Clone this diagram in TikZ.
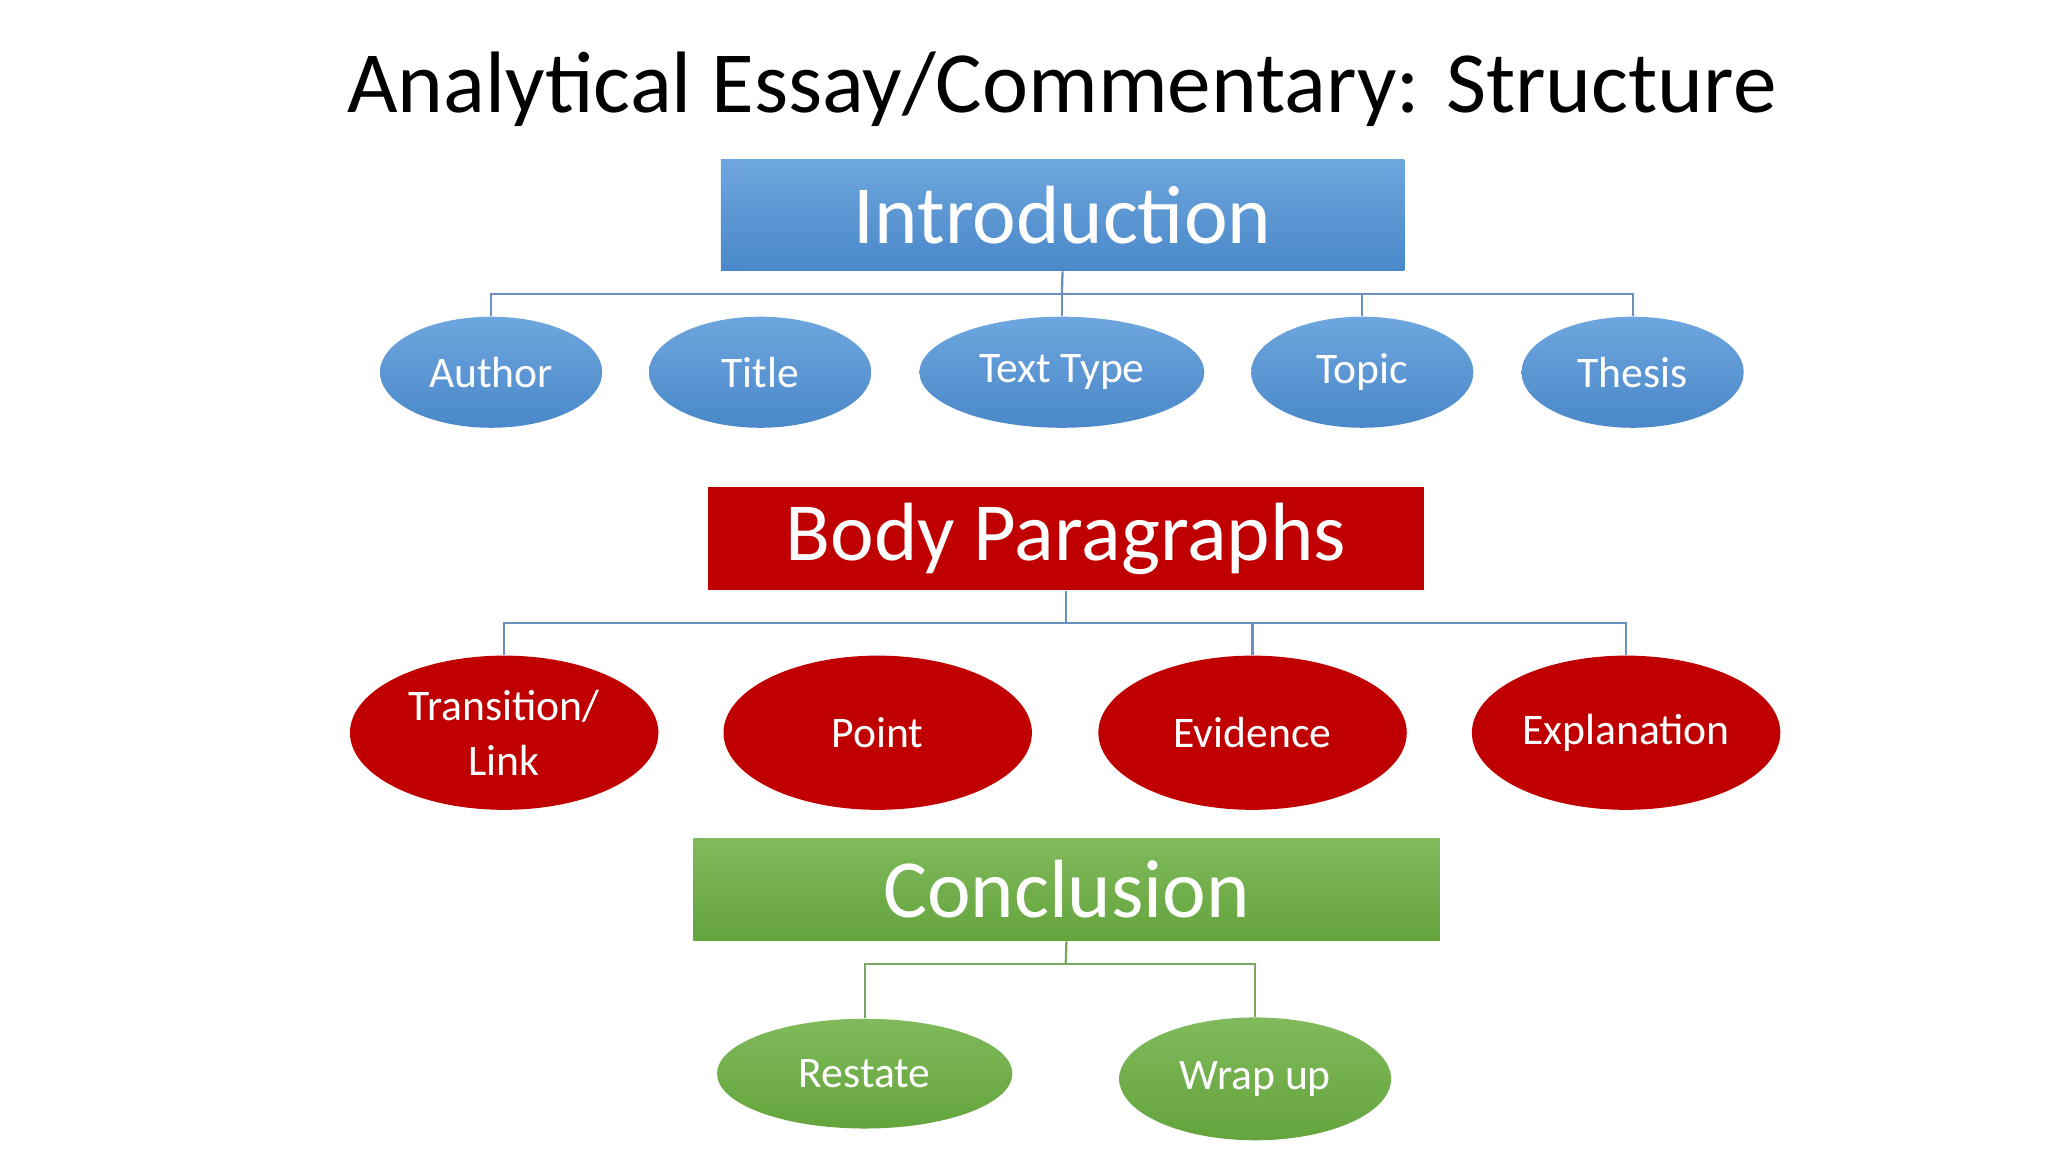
\documentclass[tikz,border=0pt]{standalone}
\usepackage{fontspec}
\setmainfont{Carlito}
\usetikzlibrary{shapes.geometric}
\definecolor{bA}{HTML}{6EA6DE}\definecolor{bB}{HTML}{4A88C9}
\definecolor{rA}{HTML}{C00000}
\definecolor{gA}{HTML}{80BA5C}\definecolor{gB}{HTML}{64A43C}
\definecolor{lnB}{HTML}{6A90BE}\definecolor{lnG}{HTML}{7AA860}
\tikzset{
 head/.style={draw=none,text=white,minimum width=#1,inner sep=0pt,font=\fontsize{18}{20}\selectfont},
 blue/.style={top color=bA,bottom color=bB},
 red/.style={fill=rA},
 green/.style={top color=gA,bottom color=gB},
 ell/.style={ellipse,draw=none,text=white,inner sep=0pt,font=\fontsize{9.5}{12}\selectfont,align=center},
 conn/.style={line width=0.5pt}
}
\begin{document}
\begin{tikzpicture}[x=0.01cm,y=-0.01cm]
\useasboundingbox[fill=white] (0,0) rectangle (1568,882);
\node[font=\fontsize{19}{22}\selectfont] (title) at (813,68) {Analytical Essay/Commentary: Structure};
% intro
\node[head=5.23cm,minimum height=0.85cm,blue] (intro) at (813.5,164.5) {Introduction};
\foreach \n/\x/\w/\t in {a/376/1.7/Author,b/582/1.7/Title,c/813/2.18/Text Type,d/1043/1.7/Topic,e/1250/1.7/Thesis}
 \node[ell,blue,minimum width=\w cm,minimum height=0.85cm] (i\n) at (\x,285) {\t};
\coordinate (ib) at (813,225);
\draw[conn,lnB] (intro.south) -- (ib);
\draw[conn,lnB] (ia.north) |- (ib) -| (ie.north);
\foreach \n in {b,c,d} \draw[conn,lnB] (i\n.north) -- (i\n.north |- ib);
% body
\node[head=5.48cm,minimum height=0.79cm,red] (body) at (816,412.5) {Body Paragraphs};
\foreach \n/\x/\t in {a/386/{Transition/\\Link},b/672/Point,c/959/Evidence,d/1245/Explanation}
 \node[ell,red,minimum width=2.36cm,minimum height=1.18cm] (b\n) at (\x,561) {\t};
\coordinate (bb) at (816,477);
\draw[conn,lnB] (body.south) -- (bb);
\draw[conn,lnB] (ba.north) |- (bb) -| (bd.north);
\foreach \n in {b,c} \draw[conn,lnB] (b\n.north) -- (b\n.north |- bb);
% conclusion
\node[head=5.71cm,minimum height=0.78cm,green] (conc) at (816.5,681) {Conclusion};
\node[ell,green,minimum width=2.26cm,minimum height=0.84cm] (ca) at (662,822) {Restate};
\node[ell,green,minimum width=2.08cm,minimum height=0.94cm] (cb) at (961,826) {Wrap up};
\coordinate (cc) at (816,738);
\draw[conn,lnG] (conc.south) -- (cc);
\draw[conn,lnG] (ca.north) |- (cc) -| (cb.north);
\end{tikzpicture}
\end{document}
